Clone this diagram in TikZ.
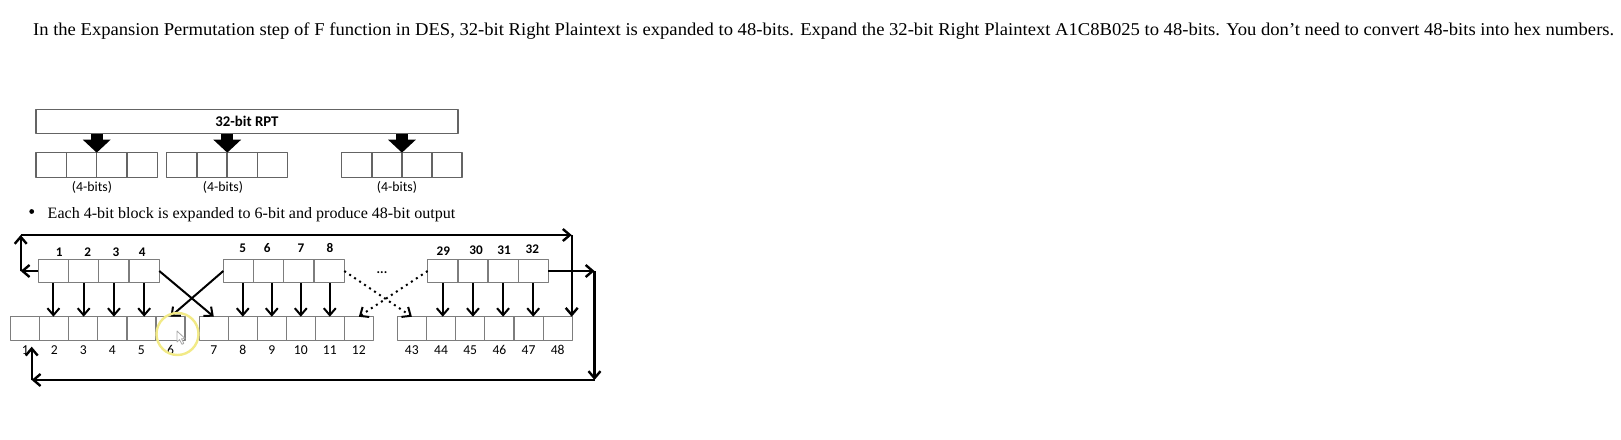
\documentclass[tikz,border=0pt]{standalone}
\usepackage{fontspec}
\setmainfont{Liberation Serif}
\newfontfamily\lblfont{Carlito}
\usetikzlibrary{arrows.meta,positioning}
\definecolor{cellgray}{RGB}{125,125,125}
\definecolor{hilite}{RGB}{242,234,135}
\tikzset{
  upcell/.style={draw=cellgray!80!black, line width=0.6pt, minimum width=15.25pt, minimum height=12.3pt, inner sep=0pt, outer sep=0pt},
  incell/.style={draw=cellgray, line width=0.6pt, minimum width=15.125pt, minimum height=11.75pt, inner sep=0pt, outer sep=0pt},
  outcell/.style={draw=cellgray, line width=0.6pt, minimum width=14.55pt, minimum height=12pt, inner sep=0pt, outer sep=0pt},
  toplbl/.style={font=\lblfont\bfseries\fontsize{6.6}{7}\selectfont, inner sep=0pt},
  botlbl/.style={font=\lblfont\fontsize{6.8}{7}\selectfont, inner sep=0pt, text height=4.6pt, text depth=0pt},
  bitlbl/.style={font=\lblfont\fontsize{6.9}{8}\selectfont, inner sep=0pt},
  arr/.style={line width=1pt, -{Straight Barb[length=3.5pt,width=6pt]}},
  looparr/.style={arr, line width=1.2pt},
  dotarr/.style={arr, dotted},
  fatarr/.style={line width=6pt, -{Triangle[length=6.5pt,width=13.5pt]}},
}
\begin{document}
\begin{tikzpicture}[x=0.5pt, y=-0.5pt, line join=round]
\useasboundingbox (0,0) rectangle (1621,439);
% question
\node[anchor=base west, inner sep=0pt] (quest) at (32.7,35.3) {\resizebox{790.5pt}{6.35pt}{In the Expansion Permutation step of F function in DES, 32-bit Right Plaintext is expanded to 48-bits. Expand the 32-bit Right Plaintext A1C8B025 to 48-bits. You don’t need to convert 48-bits into hex numbers.}};
% 32-bit RPT and its 4-bit blocks
\node[draw=cellgray!80!black, line width=0.6pt, minimum width=211pt, minimum height=12pt, inner sep=0pt, font=\lblfont\bfseries\fontsize{7.4}{8}\selectfont] (rpt) at (247,121.3) {32-bit RPT};
\foreach \i in {1,...,4} {
  \node[upcell] (up1-\i) at ({36+(\i-0.5)*30.3},165) {};
  \node[upcell] (up2-\i) at ({166.7+(\i-0.5)*30.2},165) {};
  \node[upcell] (up3-\i) at ({341.7+(\i-0.5)*30},165) {};
}
\foreach \b in {1,2,3} \draw[fatarr] (rpt.south -| up\b-2.east) -- (up\b-2.north east);
\node[bitlbl] (bits1) at (92,187.5) {(4-bits)};
\node[bitlbl] (bits2) at (223,187.5) {(4-bits)};
\node[bitlbl] (bits3) at (397,187.5) {(4-bits)};
% bullet
\fill (31.7,211.5) circle[radius=2.4];
\node[anchor=base west, inner sep=0pt] (note) at (47.3,218) {\resizebox{203.8pt}{5.5pt}{Each 4-bit block is expanded to 6-bit and produce 48-bit output}};
% input blocks
\foreach \i in {1,...,4} \node[incell] (a\i) at ({38.3+(\i-0.5)*30.25},271) {};
\foreach \i in {5,...,8} \node[incell] (b\i) at ({223.3+(\i-4.5)*30.25},271) {};
\foreach \i in {29,...,32} \node[incell] (c\i) at ({427.7+(\i-28.5)*30.15},271) {};
\foreach \i/\x/\y in {1/59.3/252, 2/87.7/252, 3/116/252, 4/142.3/252, 5/242.7/248, 6/267.3/248, 7/301/248, 8/330/248, 29/443.3/251.5, 30/476/250.5, 31/504/250.5, 32/532.3/249.5}
  \node[toplbl] (t\i) at (\x,\y) {\i};
\node[toplbl, anchor=base] (dots) at (382,273) {...};
% output blocks
\foreach \i in {1,...,6} \node[outcell, label={[botlbl, label distance=2pt]below:\i}] (o\i) at ({10.7+(\i-0.5)*29.05},328.7) {};
\foreach \i in {7,...,12} \node[outcell, label={[botlbl, label distance=2pt]below:\i}] (o\i) at ({199.3+(\i-6.5)*29},328.7) {};
\foreach \i in {43,...,48} \node[outcell, label={[botlbl, label distance=2pt]below:\i}] (o\i) at ({397.3+(\i-42.5)*29.17},328.7) {};
% straight arrows
\foreach \i/\j in {1/2,2/3,3/4,4/5} \draw[arr] (a\i.south) -- (a\i.south |- o\j.north);
\foreach \i/\j in {5/8,6/9,7/10,8/11} \draw[arr] (o\j.north |- b\i.south) -- (o\j.north);
\foreach \i/\j in {29/44,30/45,31/46,32/47} \draw[arr] (c\i.south) -- (c\i.south |- o\j.north);
% crossing arrows
\draw[arr] (a4.east) -- (o7.north);
\draw[arr] (b5.west) -- (o6.north);
\draw[dotarr] (b8.east) -- (o43.north);
\draw[dotarr] (c29.west) -- (o12.north);
% wrap-around arrows
\coordinate (tl) at (20.7,235);
\coordinate (tr) at (571.7,235);
\coordinate (rt) at (594.5,273);
\coordinate (rb) at (594.5,380);
\coordinate (lb) at (31.7,380);
\coordinate (lt) at (31.7,346.7);
\draw[looparr] (a1.west) -- (a1.west -| tl);
\draw[looparr] (a1.west -| tl) -- (tl);
\draw[looparr] (tl) -- (tr);
\draw[looparr] (tr) -- (tr |- o48.north);
\draw[looparr] (c32.east) -- (c32.east -| rt);
\draw[looparr] (c32.east -| rt) -- (rb);
\draw[looparr] (rb) -- (lb);
\draw[looparr] (lb) -- (lt);
% pointer highlight
\draw[hilite, line width=1.2pt] (177.5,334) circle[radius=21];
\draw[gray!70, fill=white, line width=0.4pt] (177,331) -- (177,342) -- (179.5,339.6) -- (182,344.3) -- (183.8,343.4) -- (181.5,338.8) -- (185,338.5) -- cycle;
\end{tikzpicture}
\end{document}
